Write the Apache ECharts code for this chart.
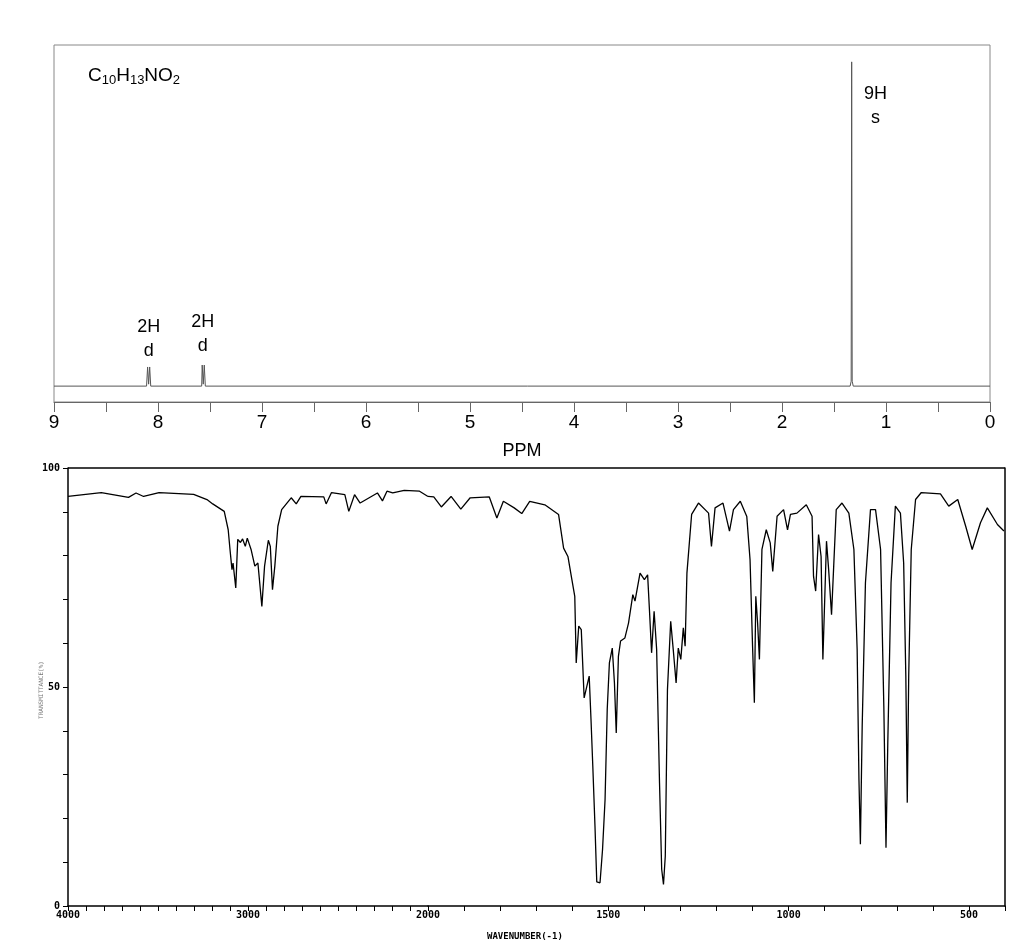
<!DOCTYPE html>
<html><head><meta charset="utf-8">
<script src="https://cdn.jsdelivr.net/npm/echarts@6/dist/echarts.min.js"></script>
<style>html,body{margin:0;padding:0;background:#fff}#c{width:1024px;height:946px}</style>
</head><body><div id="c"></div>
<script>
// NMR spectrum: [ppm, intensity]
const nmrPoints = [[9,0],[8.11,0],[8.100,5.9],[8.09,0.6],[8.080,5.9],[8.07,0],[7.58,0],[7.575,6.5],[7.565,0.6],[7.555,6.5],[7.545,0],[1.345,0],[1.335,1.5],[1.330,100],[1.325,1.5],[1.315,0],[0,0]];
const nmrLabels = [{x:8.09,y:14.5,t:'2H\nd'},{x:7.57,y:16,t:'2H\nd'},{x:1.10,y:86.5,t:'9H\ns'}];
const nmrTicks = [9,8,7,6,5,4,3,2,1,0];
// IR spectrum: [wavenumber, %T]
const irHigh = [[4000,93.5],[3815,94.4],[3664,93.3],[3622,94.3],[3580,93.5],[3494,94.4],[3302,94.0],[3228,92.8],[3196,91.8],[3132,90.1],[3110,85.9],[3100,81.4],[3089,76.8],[3083,78.3],[3068,72.6],[3057,83.7],[3042,83.0],[3030,83.8],[3015,82.1],[3004,84.0],[2983,81.4],[2962,77.6],[2945,78.3],[2923,68.4],[2908,77.6],[2887,83.5],[2876,82.1],[2864,72.2],[2851,77.6],[2834,86.7],[2813,90.5],[2760,93.2],[2732,91.8],[2706,93.5],[2579,93.4],[2566,91.8],[2536,94.4],[2462,93.9],[2440,90.1],[2408,93.9],[2377,92.0],[2281,94.3],[2253,92.5],[2228,94.7],[2196,94.3],[2132,94.9],[2047,94.7],[2000,93.5]];
const irLow = [[2000,93.5],[1984,93.4],[1963,91.1],[1936,93.5],[1909,90.6],[1883,93.2],[1830,93.4],[1809,88.6],[1791,92.4],[1761,90.9],[1740,89.6],[1718,92.4],[1676,91.6],[1638,89.4],[1624,81.7],[1612,79.8],[1601,74.5],[1593,70.7],[1589,55.5],[1582,63.9],[1575,63.1],[1567,47.5],[1553,52.5],[1548,42.6],[1543,31.9],[1537,18.3],[1532,5.5],[1523,5.3],[1516,12.9],[1509,24.3],[1503,44.9],[1497,55.5],[1489,58.9],[1483,50.9],[1478,39.5],[1472,57.0],[1466,60.5],[1454,61.2],[1444,64.6],[1432,71.1],[1426,69.6],[1412,76.0],[1400,74.5],[1391,75.6],[1386,67.7],[1380,57.8],[1373,67.3],[1366,58.6],[1358,28.1],[1352,8.4],[1347,4.9],[1342,11.4],[1336,49.4],[1327,65.0],[1320,58.6],[1312,50.9],[1306,58.9],[1299,56.3],[1292,63.5],[1287,59.3],[1282,76.0],[1269,89.4],[1250,92.0],[1222,89.7],[1214,82.1],[1204,90.9],[1182,92.0],[1164,85.6],[1153,90.5],[1134,92.4],[1116,88.9],[1107,79.1],[1100,59.3],[1095,46.4],[1091,70.7],[1086,64.6],[1081,56.3],[1074,81.4],[1062,85.9],[1051,82.9],[1044,76.4],[1032,89.0],[1014,90.5],[1003,85.9],[995,89.4],[977,89.7],[951,91.6],[935,89.0],[931,75.3],[925,71.9],[917,84.8],[910,79.8],[905,56.3],[895,83.3],[889,76.8],[881,66.5],[875,77.6],[868,90.5],[852,92.0],[833,89.7],[819,81.4],[810,58.6],[805,28.9],[801,14.1],[796,41.1],[787,73.8],[773,90.5],[759,90.5],[745,81.4],[736,45.6],[730,13.3],[725,37.3],[716,73.8],[704,91.3],[690,89.7],[681,78.3],[675,52.5],[671,23.6],[667,52.5],[660,81.4],[648,92.8],[632,94.4],[579,94.1],[556,91.3],[531,92.8],[509,86.7],[491,81.4],[468,87.5],[449,90.9],[421,87.1],[403,85.6]];
const irYLabels = [0,50,100];

const chart = echarts.init(document.getElementById('c'));
const pix = {fontFamily:'DejaVu Sans Mono',fontWeight:'bold',fontSize:10,color:'#000'};
chart.setOption({
  animation:false,
  grid:[
    {left:54,right:34,top:45,height:357,show:true,borderColor:'#888',borderWidth:1},
    {left:68,width:360,top:468,height:438},
    {left:428,width:577,top:468,height:438}
  ],
  xAxis:[
    {gridIndex:0,type:'value',min:0,max:9,inverse:true,interval:0.5,
     name:'PPM',nameLocation:'middle',nameGap:40,nameTextStyle:{fontFamily:'Liberation Sans',fontSize:18,color:'#000'},
     axisLine:{onZero:false,lineStyle:{color:'#666'}},axisTick:{length:10,lineStyle:{color:'#666'}},
     axisLabel:{fontFamily:'Liberation Sans',fontSize:19,color:'#000',margin:11,formatter:v=>nmrTicks.includes(v)?String(v):''},
     splitLine:{show:false}},
    {gridIndex:1,type:'value',min:2000,max:4000,inverse:true,interval:100,
     axisLine:{onZero:false,lineStyle:{color:'#000',width:1.5}},axisTick:{length:5,lineStyle:{color:'#000'}},
     axisLabel:{...pix,margin:4,showMaxLabel:true,showMinLabel:true,formatter:v=>v%1000===0?String(v):''},splitLine:{show:false}},
    {gridIndex:2,type:'value',min:400,max:2000,inverse:true,interval:100,
     axisLine:{onZero:false,lineStyle:{color:'#000',width:1.5}},axisTick:{length:5,lineStyle:{color:'#000'}},
     axisLabel:{...pix,margin:4,formatter:v=>(v%500===0&&v!==2000)?String(v):''},splitLine:{show:false}}
  ],
  yAxis:[
    {gridIndex:0,type:'value',min:-4.9,max:105.2,show:false},
    {gridIndex:1,type:'value',min:0,max:100,interval:10,
     axisLine:{show:true,lineStyle:{color:'#000',width:1.5}},axisTick:{show:true,length:5,lineStyle:{color:'#000'}},
     axisLabel:{...pix,margin:8,formatter:v=>irYLabels.includes(v)?String(v):''},splitLine:{show:false}},
    {gridIndex:2,type:'value',min:0,max:100,interval:10,position:'right',
     axisLine:{show:true,lineStyle:{color:'#000',width:1.5}},axisTick:{show:false},axisLabel:{show:false},splitLine:{show:false}}
  ],
  graphic:[
    {type:'text',left:88,top:66,style:{rich:{n:{fontFamily:'Liberation Sans',fontSize:19,fill:'#000'},s:{fontFamily:'Liberation Sans',fontSize:13,fill:'#000',padding:[10,0,0,0]}},
      text:'{n|C}{s|10}{n|H}{s|13}{n|NO}{s|2}'}},
    {type:'line',shape:{x1:68,y1:468,x2:1005,y2:468},style:{stroke:'#000',lineWidth:1.5}},
    {type:'text',left:487,top:932,style:{text:'WAVENUMBER(-1)',font:'bold 9px "DejaVu Sans Mono"',fill:'#000'}},
    {type:'text',x:38,y:690,rotation:Math.PI/2,style:{text:'TRANSMITTANCE(%)',font:'6px "DejaVu Sans Mono"',fill:'#777',align:'center'}}
  ],
  series:[
    {type:'line',xAxisIndex:0,yAxisIndex:0,data:nmrPoints,showSymbol:false,lineStyle:{color:'#555',width:1},
     markPoint:{symbol:'circle',symbolSize:0,label:{show:true,fontFamily:'Liberation Sans',fontSize:18,color:'#000',lineHeight:24,align:'center'},
       data:nmrLabels.map(d=>({coord:[d.x,d.y],value:d.t,label:{formatter:d.t}}))}},
    {type:'line',xAxisIndex:1,yAxisIndex:1,data:irHigh,showSymbol:false,lineStyle:{color:'#000',width:1.3}},
    {type:'line',xAxisIndex:2,yAxisIndex:2,data:irLow,showSymbol:false,lineStyle:{color:'#000',width:1.3}}
  ]
});
</script></body></html>
